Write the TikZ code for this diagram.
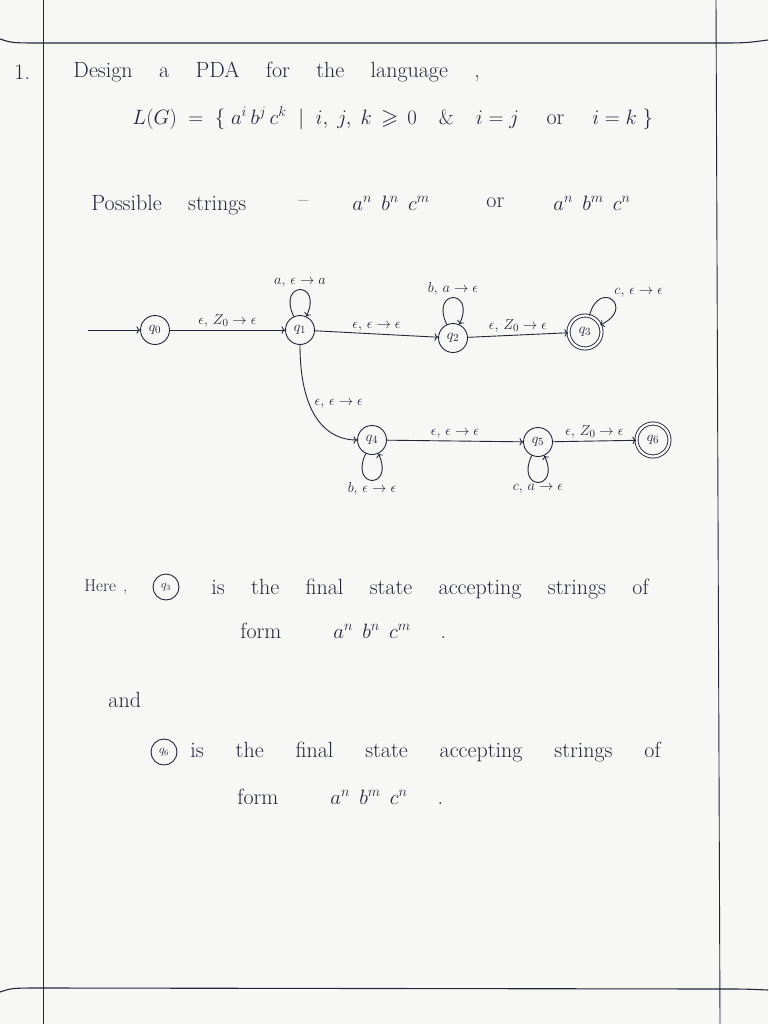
\documentclass[tikz,border=0pt]{standalone}
\usepackage{amsmath,amssymb}
\usetikzlibrary{arrows.meta}
\definecolor{ink}{RGB}{36,38,58}
\definecolor{paper}{RGB}{247,247,245}
\newcommand{\handspacing}{\spaceskip=1.2em plus 0.1em\relax}
\newcommand{\widehandspacing}{\spaceskip=1.45em plus 0.1em\relax}
\tikzset{
  pdastate/.style={draw, circle, minimum size=29pt, inner sep=0pt, font=\fontsize{15}{15}\selectfont},
  pdafinal/.style={pdastate, double, double distance=2.2pt, minimum size=33pt},
  tlabel/.style={font=\fontsize{15}{15}\selectfont, inner sep=2pt},
  handtext/.style={anchor=west, inner sep=0pt, font=\fontsize{22}{26}\selectfont\handspacing},
  inlinestate/.style={draw, circle, minimum size=26pt, inner sep=0pt, font=\fontsize{12}{12}\selectfont},
}
\begin{document}
\begin{tikzpicture}[x=1pt, y=-1pt, color=ink, line width=0.9pt]
\fill[paper] (0,0) rectangle (768,1024);
\useasboundingbox (0,0) rectangle (768,1024);

% page rules
\draw[line width=1.1pt] (0,39) .. controls (12,43) .. (44,43) -- (716,43) .. controls (745,43) .. (768,40);
\draw[line width=1.1pt] (0,992) .. controls (12,988) .. (44,988) -- (720,989) .. controls (745,989) .. (768,990);
\draw (43,0) -- (43,1024);
\draw (716,0) -- (720,1024);

% question
\node[handtext] (num) at (14,72) {1.};
\node[handtext] (design) at (73,72) {Design a PDA for the language ,};
\node[handtext] (lang) at (132,118) {$L(G) \;=\; \{\; a^i\, b^j\, c^k \;\;|\;\; i,\; j,\; k \,\geqslant\, 0 \quad \& \quad i = j \quad\; \text{or} \quad\; i = k \;\}$};
\node[handtext] (poss) at (91,205) {Possible strings};
\node[handtext] (dash) at (298,203) {--};
\node[handtext] (str1) at (352,203) {$a^n\;\, b^n\;\, c^m$};
\node[handtext] (or) at (486,203) {or};
\node[handtext] (str2) at (553,203) {$a^n\;\, b^m\;\, c^n$};

% PDA
\node[pdastate] (q0) at (155,330) {$q_0$};
\node[pdastate] (q1) at (300,330) {$q_1$};
\node[pdastate] (q2) at (453,338) {$q_2$};
\node[pdafinal] (q3) at (585,332) {$q_3$};
\node[pdastate] (q4) at (372,440) {$q_4$};
\node[pdastate] (q5) at (538,442) {$q_5$};
\node[pdafinal] (q6) at (653,440) {$q_6$};
\coordinate (start) at (88,330);

\path[draw,->] (start) -- (q0);
\path[draw,->] (q0) -- node[tlabel, above] {$\epsilon,\, Z_0 \rightarrow \epsilon$} (q1);
\path[draw,->] (q1) -- node[tlabel, above] {$\epsilon,\, \epsilon \rightarrow \epsilon$} (q2);
\path[draw,->] (q2) -- node[tlabel, above] {$\epsilon,\, Z_0 \rightarrow \epsilon$} (q3);
\path[draw,->] (q1) .. controls (300,420) and (330,440) .. node[tlabel, above right, pos=0.4] {$\epsilon,\, \epsilon \rightarrow \epsilon$} (q4);
\path[draw,->] (q4) -- node[tlabel, above] {$\epsilon,\, \epsilon \rightarrow \epsilon$} (q5);
\path[draw,->] (q5) -- node[tlabel, above] {$\epsilon,\, Z_0 \rightarrow \epsilon$} (q6);

\path[draw,->] (q1) to[out=115, in=65, looseness=8] node[tlabel, above] {$a,\, \epsilon \rightarrow a$} (q1);
\path[draw,->] (q2) to[out=115, in=65, looseness=8] node[tlabel, above] {$b,\, a \rightarrow \epsilon$} (q2);
\path[draw,->] (q3) to[out=75, in=25, looseness=7] node[tlabel, above right] {$c,\, \epsilon \rightarrow \epsilon$} (q3);
\path[draw,->] (q4) to[out=-115, in=-65, looseness=8] node[tlabel, below] {$b,\, \epsilon \rightarrow \epsilon$} (q4);
\path[draw,->] (q5) to[out=-115, in=-65, looseness=8] node[tlabel, below] {$c,\, a \rightarrow \epsilon$} (q5);

% remarks
\node[handtext, font=\fontsize{17}{20}\selectfont] (here) at (84,587) {Here\hspace{7pt},};
\node[inlinestate] (r3) at (166,587) {$q_3$};
\node[handtext] (acc1) at (211,589) {is the final state accepting strings of};
\node[handtext] (form1) at (240,631) {form};
\node[handtext] (expr1) at (333,631) {$a^n\;\, b^n\;\, c^m$ \,.};
\node[handtext] (and) at (108,700) {and};
\node[inlinestate] (r6) at (164,752) {$q_6$};
\node[handtext, font=\fontsize{22}{26}\selectfont\widehandspacing] (acc2) at (190,752) {is the final state accepting strings of};
\node[handtext] (form2) at (237,797) {form};
\node[handtext] (expr2) at (330,797) {$a^n\;\, b^m\;\, c^n$ \,.};
\end{tikzpicture}
\end{document}
